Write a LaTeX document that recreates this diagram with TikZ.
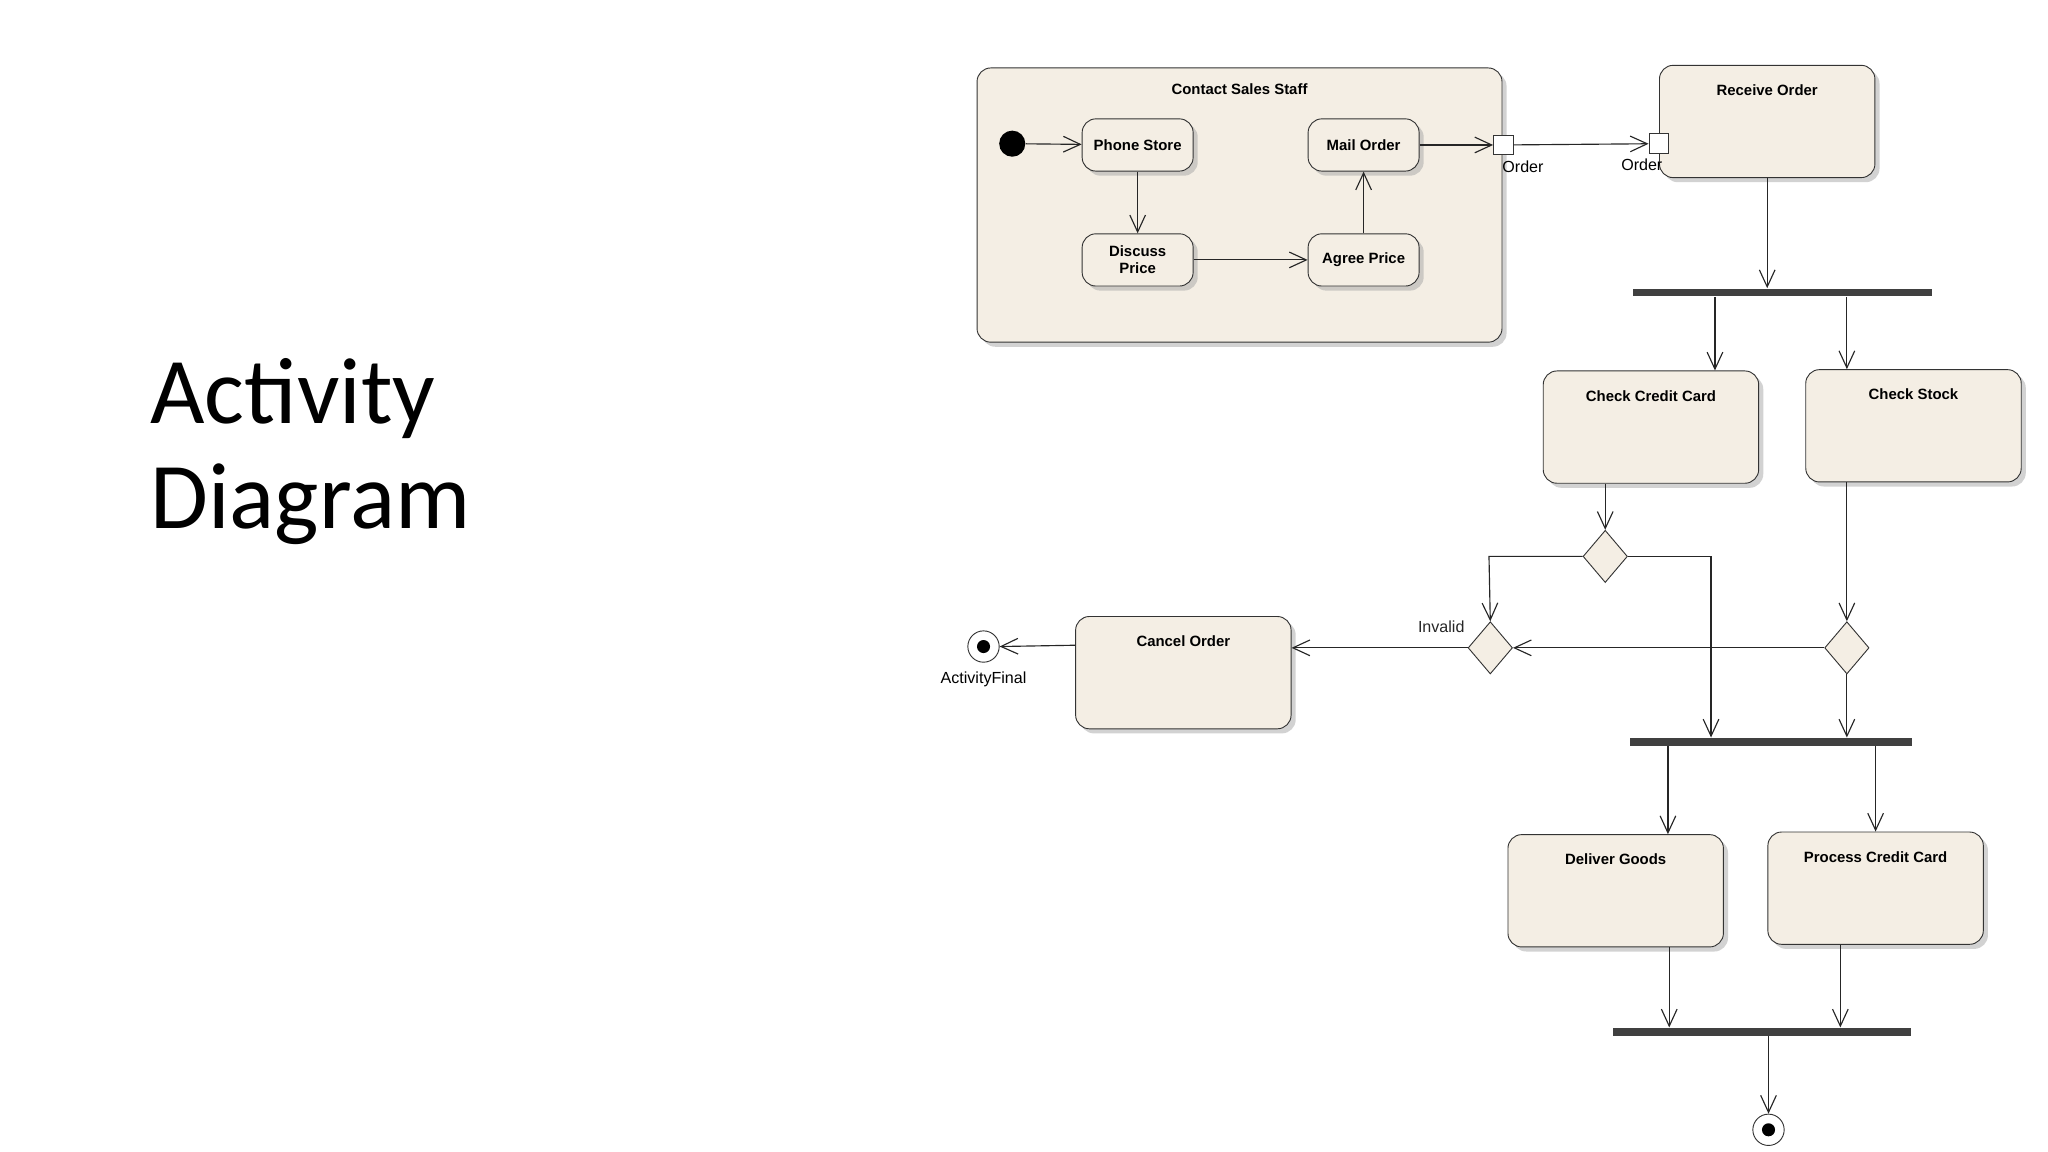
\documentclass[tikz,border=0pt]{standalone}
\usepackage{fontspec}
\setmainfont{Liberation Sans}
\newfontfamily\titlefont{Carlito}
\usetikzlibrary{arrows.meta,shapes.geometric,shadows}
\definecolor{actfill}{RGB}{244,238,228}
\begin{document}
\begin{tikzpicture}[x=0.02cm,y=-0.02cm,
  lbl/.style={font=\fontsize{6.5}{7.5}\selectfont\bfseries},
  act/.style={draw=black!80,rounded corners=6pt,fill=actfill,drop shadow={shadow xshift=2pt,shadow yshift=-2pt,fill=black!35},inner sep=0pt},
  big/.style={act,minimum width=3.3cm,minimum height=1.72cm},
  small/.style={act,minimum width=1.7cm,minimum height=0.8cm,lbl,align=center},
  bar/.style={fill=black!75,draw=none,minimum height=0.12cm,inner sep=0pt},
  dec/.style={diamond,draw=black!80,fill=actfill,minimum width=0.68cm,minimum height=0.8cm,inner sep=0pt,aspect=0.85},
  pin/.style={draw=black!80,fill=white,minimum size=0.3cm,inner sep=0pt},
  fin/.style={circle,draw=black!80,fill=white,minimum size=0.48cm,inner sep=0pt,path picture={\fill[black] (path picture bounding box.center) circle (0.1cm);}},
  ar/.style={-{Straight Barb[length=2.6mm,width=2.4mm]},black!85,line width=0.5pt},
  ln/.style={black!85,line width=0.5pt}]
\useasboundingbox (0,0) rectangle (1568,882);
\node[font=\titlefont\fontsize{41}{46}\selectfont,anchor=north west,align=left] (title) at (109,268) {Activity\\Diagram};

\node[big,minimum width=8.04cm,minimum height=4.2cm] (css) at (949,157) {};
\node[lbl,anchor=north] (csst) at (css.north) [yshift=-0.12cm] {Contact Sales Staff};
\node[circle,fill=black,minimum size=0.4cm,inner sep=0pt] (init) at (775,110) {};
\node[small] (phone) at (871,111) {Phone Store};
\node[small] (mail) at (1044,111) {Mail Order};
\node[small] (disc) at (871,199) {Discuss\\Price};
\node[small] (agree) at (1044,199) {Agree Price};
\node[pin] (pin1) at (1151,111) {};
\node[font=\fontsize{7}{8}\selectfont] (pin1l) at (1166,128) {Order};

\node[big] (recv) at (1353,93) {};
\node[lbl,anchor=north] at (recv.north) [yshift=-0.18cm] {Receive Order};
\node[pin] (pin2) at (1270,110) {};
\node[font=\fontsize{7}{8}\selectfont] (pin2l) at (1257,126) {Order};

\node[bar,minimum width=4.58cm] (bar1) at (1365,224) {};
\node[big] (ccc) at (1264,327) {};
\node[lbl,anchor=north] at (ccc.north) [yshift=-0.18cm] {Check Credit Card};
\node[big] (cs) at (1465,326) {};
\node[lbl,anchor=north] at (cs.north) [yshift=-0.18cm] {Check Stock};

\node[dec] (d1) at (1229,426) {};
\node[dec] (d2) at (1141,496) {};
\node[dec] (d3) at (1414,496) {};

\node[big] (cancel) at (906,515) {};
\node[lbl,anchor=north] at (cancel.north) [yshift=-0.18cm] {Cancel Order};
\node[fin] (f1) at (753,495) {};
\node[font=\fontsize{7}{8}\selectfont] (f1l) at (753,520) {ActivityFinal};

\node[bar,minimum width=4.32cm] (bar2) at (1356,568) {};
\node[big] (deliv) at (1237,682) {};
\node[lbl,anchor=north] at (deliv.north) [yshift=-0.18cm] {Deliver Goods};
\node[big] (proc) at (1436,680) {};
\node[lbl,anchor=north] at (proc.north) [yshift=-0.18cm] {Process Credit Card};
\node[bar,minimum width=4.56cm] (bar3) at (1349,790) {};
\node[fin] (f2) at (1354,865) {};

\coordinate (xa) at (1313,0);
\coordinate (xb) at (1414,0);
\coordinate (xc) at (1310,0);
\coordinate (xd) at (1277,0);
\coordinate (xe) at (1436,0);
\coordinate (xf) at (1278,0);
\coordinate (xg) at (1409,0);
\coordinate (xh) at (1140,0);
\coordinate (yd) at (0,494);

\draw[ar] (init) -- (phone);
\draw[ar] (phone) -- (disc);
\draw[ar] (disc) -- (agree);
\draw[ar] (agree) -- (mail);
\draw[ar] (mail) -- (pin1);
\draw[ar] (pin1) -- (pin2);
\draw[ar] (recv) -- (recv.south |- bar1.north);
\draw[ar] (bar1.south -| xa) -- (ccc.north -| xa);
\draw[ar] (bar1.south -| xb) -- (cs.north -| xb);
\draw[ar] (ccc.south -| d1) -- (d1.north);
\draw[ar] (d1.west) -- (d1.west -| xh) -- (d2.north);
\draw[ar] (d1.east) -- (d1.east -| xc) -- (bar2.north -| xc);
\draw[ar] (cs.south -| d3) -- (d3.north);
\draw[ar] (d3.west) -- (d2.east);
\draw[ar] (d3.south) -- (bar2.north -| d3);
\draw[ar] (d2.west) -- node[pos=0.15,above,font=\fontsize{7}{8}\selectfont,yshift=3pt] {Invalid} (d2.west -| cancel.east);
\draw[ar] (cancel.west |- yd) -- (f1.east);
\draw[ar] (bar2.south -| xd) -- (deliv.north -| xd);
\draw[ar] (bar2.south -| xe) -- (proc.north -| xe);
\draw[ar] (deliv.south -| xf) -- (bar3.north -| xf);
\draw[ar] (proc.south -| xg) -- (bar3.north -| xg);
\draw[ar] (bar3.south -| f2) -- (f2.north);
\end{tikzpicture}
\end{document}
